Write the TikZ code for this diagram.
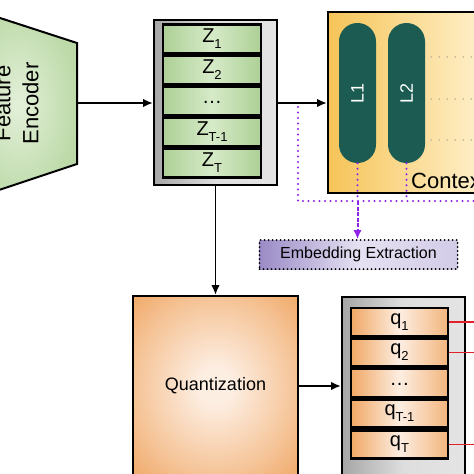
\documentclass[tikz,border=0pt]{standalone}
\usepackage{fontspec}
\setmainfont{Liberation Sans}
\usetikzlibrary{arrows.meta}
\definecolor{encgreen}{HTML}{B3D49C}
\definecolor{encgreenl}{HTML}{E3F0D9}
\definecolor{cellg}{HTML}{ADD096}
\definecolor{cellgl}{HTML}{D6EAC8}
\definecolor{stackd}{HTML}{A6A6A6}
\definecolor{stackl}{HTML}{E4E4E4}
\definecolor{ctxo}{HTML}{F6C458}
\definecolor{ctxl}{HTML}{FFF4D6}
\definecolor{teal}{HTML}{1B5B52}
\definecolor{quo}{HTML}{F0A866}
\definecolor{qul}{HTML}{FDEEE2}
\definecolor{emb}{HTML}{9A8BC6}
\definecolor{embl}{HTML}{E6E1F2}
\definecolor{pviolet}{HTML}{8F22E8}
\definecolor{redl}{HTML}{E0202A}
\definecolor{dotg}{HTML}{BDB196}
\pgfdeclareradialshading{quantsh}{\pgfpoint{0bp}{0bp}}{color(0bp)=(qul); color(5bp)=(qul); color(25bp)=(quo!62!qul); color(36bp)=(quo); color(50bp)=(quo)}
\pgfdeclareradialshading{encsh}{\pgfpoint{0bp}{0bp}}{color(0bp)=(encgreenl); color(25bp)=(encgreen!80!encgreenl); color(36bp)=(encgreen); color(50bp)=(encgreen)}
\newcommand{\lowsub}[1]{\raisebox{-6pt}{\fontsize{13}{13}\selectfont #1}}
\begin{document}
\begin{tikzpicture}[x=1pt,y=-1pt,
  arr/.style={line width=1.9pt,-{Latex[length=10pt,width=8.5pt]}},
  outerbox/.style={draw=black,line width=2pt,left color=stackd,right color=stackl,middle color=stackl!90!stackd},
  zcell/.style={draw=black,line width=2.2pt,minimum width=98pt,minimum height=29pt,inner sep=0pt,
    left color=cellg,right color=cellg,middle color=cellgl,font=\fontsize{20}{24}\selectfont},
  qcell/.style={draw=black,line width=2.2pt,minimum width=97pt,minimum height=28pt,inner sep=0pt,
    left color=quo,right color=quo!85!white,middle color=qul,font=\fontsize{20}{24}\selectfont},
  pill/.style={fill=teal,draw=none,minimum width=37pt,minimum height=140pt,rounded corners=18.4pt,
    text=white,inner sep=0pt,font=\fontsize{18}{20}\selectfont},
  pdot/.style={draw=pviolet,line width=2.2pt,dash pattern=on 0pt off 5.5pt,line cap=round},
  gdot/.style={draw=dotg,line width=1.8pt,dash pattern=on 0pt off 8pt,line cap=round}]
\useasboundingbox (0,0) rectangle (474,474);
\clip (0,0) rectangle (474,474);
\fill[white] (0,0) rectangle (474,474);

% Feature encoder
\draw[line width=2pt,shading=encsh] (-40,5) -- (77,43) -- (77,164) -- (-40,203) -- cycle;
\node[rotate=90,align=center,font=\fontsize{22}{28}\selectfont] (enctext) at (17,103.5) {Feature\\Encoder};
\coordinate (enc) at (77,103);

% Z stack
\node[outerbox,minimum width=123pt,minimum height=165pt,inner sep=0pt] (zs) at (215.5,102.5) {};
\node[zcell] (z1) at (212,39) {Z\lowsub{1}};
\node[zcell] (z2) at (212,70) {Z\lowsub{2}};
\node[zcell] (z3) at (212,101) {\raisebox{-4pt}{…}};
\node[zcell] (z4) at (212,132) {Z\lowsub{T-1}};
\node[zcell] (z5) at (212,163) {Z\lowsub{T}};

\draw[arr] (enc) -- (zs.west |- enc);

% Context network
\node[draw=black,line width=2pt,left color=ctxo,right color=ctxl,minimum width=170pt,minimum height=181pt,inner sep=0pt] (ctx) at (413,102.5) {};
\node[pill] (l1) at (357.5,93) {\rotatebox{90}{L1}};
\node[pill] (l2) at (406.5,93) {\rotatebox{90}{L2}};
\node[anchor=base west,inner sep=0pt,font=\fontsize{22}{26}\selectfont] (ctxt) at (411,188) {Context};
\coordinate (g1) at (474,57);
\coordinate (g2) at (474,99);
\coordinate (g3) at (474,140);
\draw[gdot] ([xshift=6pt]l2.east |- g1) -- (g1);
\draw[gdot] ([xshift=6pt]l2.east |- g2) -- (g2);
\draw[gdot] ([xshift=6pt]l2.east |- g3) -- (g3);

\draw[arr] (zs.east |- 0,103) -- (ctx.west |- 0,103);

% purple dotted taps
\coordinate (pa) at (298,107);
\coordinate (pb) at (298,201);
\coordinate (pc) at (476,201);
\coordinate (j1) at (l1.south |- pb);
\coordinate (j2) at (l2.south |- pb);
\draw[pdot] (pa) -- (pb) -- (pc);
\draw[pdot] (l1.south) -- (j1);
\draw[pdot] (l2.south) -- (j2);

\node[draw=black,line width=2pt,dash pattern=on 0pt off 4pt,line cap=round,left color=emb,right color=embl!75!emb,middle color=embl,
  minimum width=198pt,minimum height=29pt,inner sep=0pt,font=\fontsize{16}{19}\selectfont] (emb) at (358.5,254.5) {Embedding Extraction};
\draw[draw=pviolet,line width=2pt,dash pattern=on 4pt off 1.5pt,-{Latex[length=9pt,width=8.5pt]}] (j1) -- (j1 |- emb.north);

% Quantization
\node[draw=black,line width=2pt,shading=quantsh,minimum width=165pt,minimum height=180pt,inner sep=0pt,
  font=\fontsize{18}{22}\selectfont] (quant) at (215.5,386) {Quantization};
\draw[arr] (zs.south) -- (quant.north);

% q stack
\node[outerbox,minimum width=123pt,minimum height=180pt,inner sep=0pt] (qs) at (403.5,387) {};
\node[qcell] (q1) at (399.5,322) {q\lowsub{1}};
\node[qcell] (q2) at (399.5,352.5) {q\lowsub{2}};
\node[qcell] (q3) at (399.5,383) {\raisebox{-4pt}{…}};
\node[qcell] (q4) at (399.5,413.5) {q\lowsub{T-1}};
\node[qcell] (q5) at (399.5,444.5) {q\lowsub{T}};
\draw[arr] (quant.east |- 0,386) -- (qs.west |- 0,386);

\coordinate (r1) at (474,322);
\coordinate (r2) at (474,352.5);
\coordinate (r5) at (474,444.5);
\draw[redl,line width=1.8pt] (q1.east) -- (r1);
\draw[redl,line width=1.8pt] (q2.east) -- (r2);
\draw[redl,line width=1.8pt] (q5.east) -- (r5);
\end{tikzpicture}
\end{document}
